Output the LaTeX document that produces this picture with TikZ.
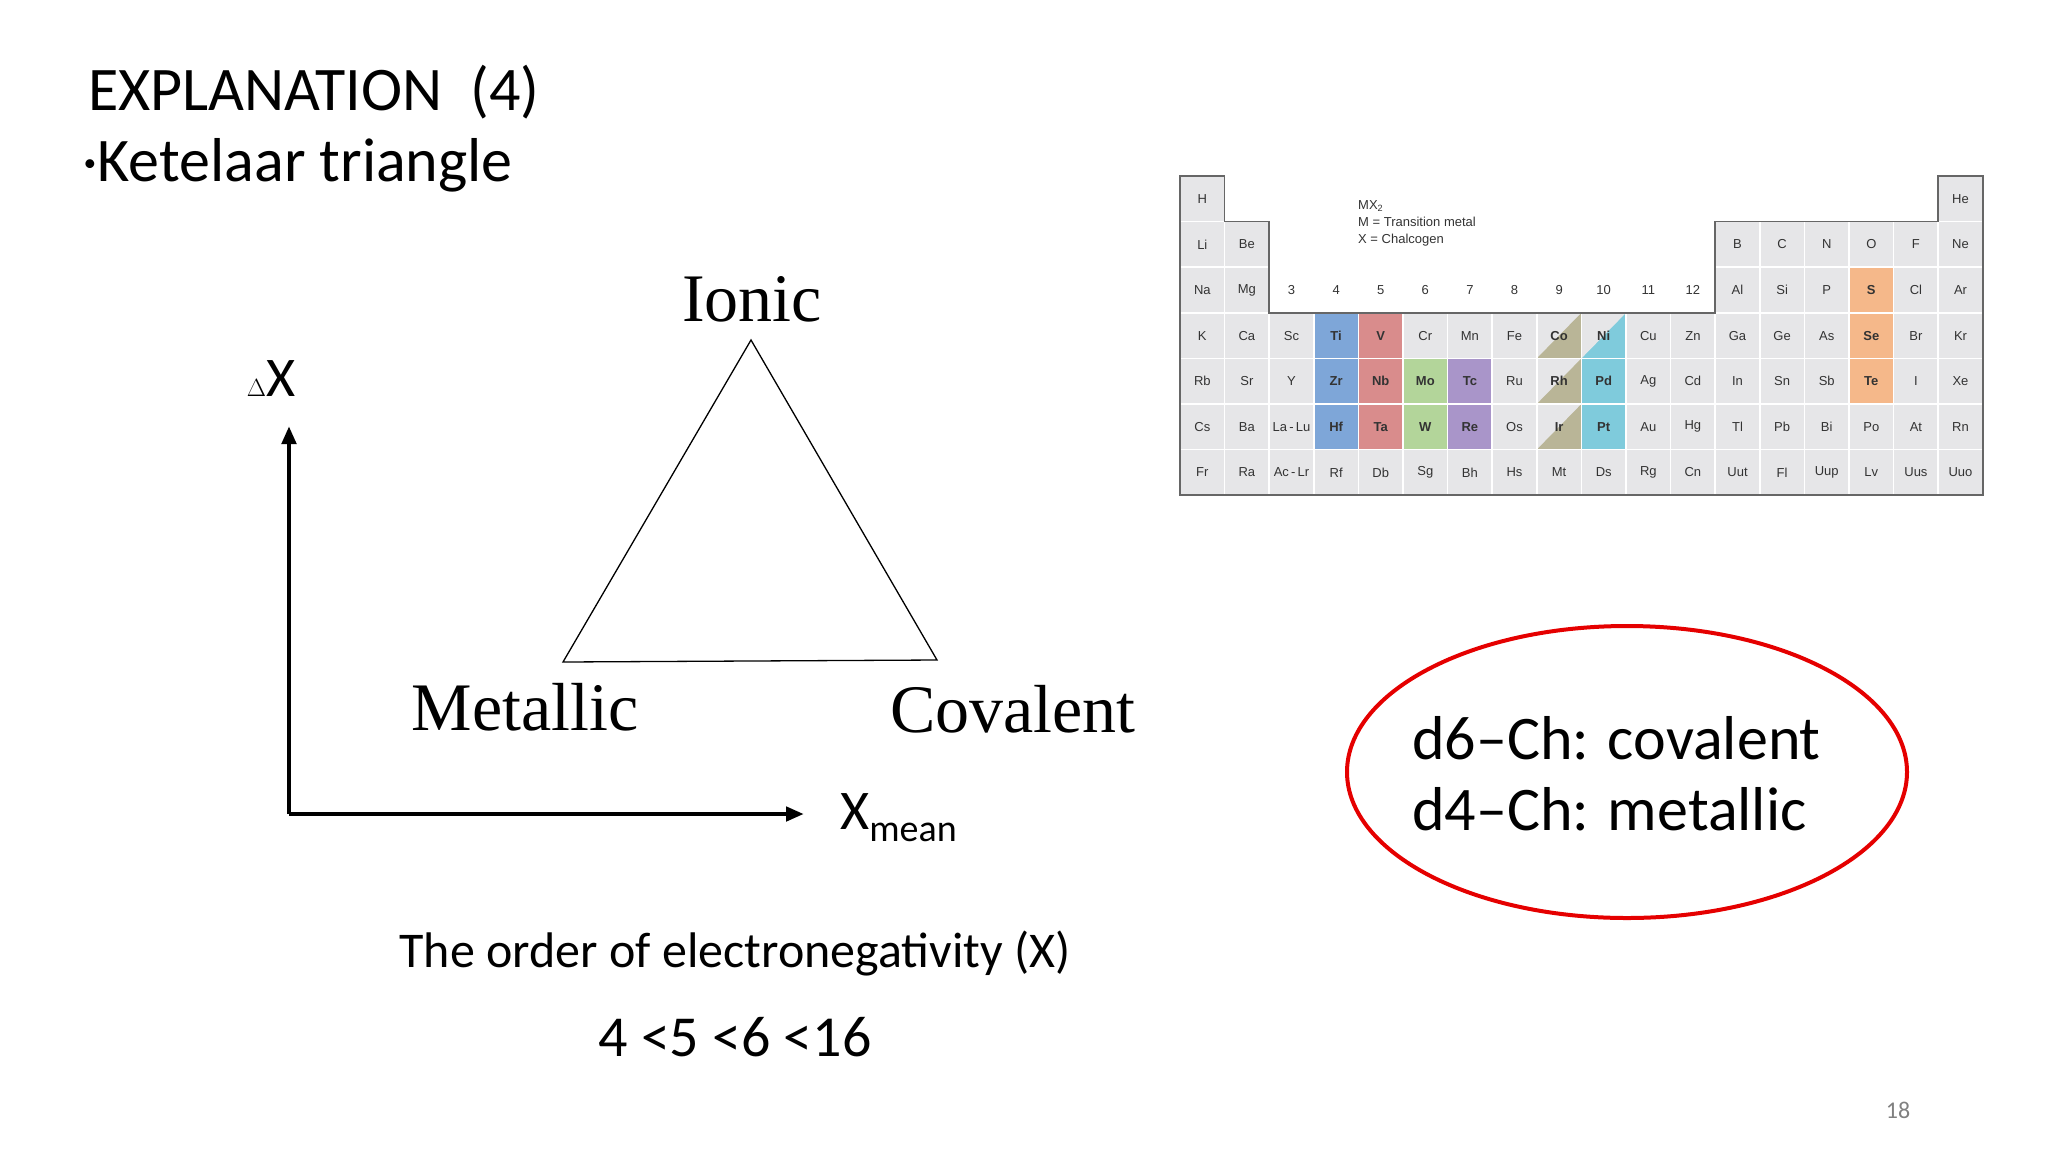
\documentclass[tikz,border=0pt]{standalone}
\usepackage{fontspec}
\setmainfont{Carlito}
\newfontfamily\tnr{Liberation Serif}
\newfontfamily\arl{Liberation Sans}
\usetikzlibrary{arrows.meta}
\definecolor{cg}{HTML}{E6E6E8}
\definecolor{cb}{HTML}{7EA6D8}
\definecolor{cr}{HTML}{D98C8C}
\definecolor{cgr}{HTML}{B3D59A}
\definecolor{cp}{HTML}{A995C9}
\definecolor{ct}{HTML}{B9B597}
\definecolor{cc}{HTML}{7FCBDC}
\definecolor{co}{HTML}{F5B88A}
\definecolor{tx}{HTML}{333333}
\tikzset{
 base/.style={rectangle,draw=white,line width=1.5pt,minimum width=44.6pt,minimum height=45.6pt,inner sep=0pt,text=tx,font=\arl\fontsize{13}{15}\selectfont},
 g/.style={base,fill=cg},
 b/.style={base,fill=cb,font=\arl\bfseries\fontsize{13}{15}\selectfont},
 r/.style={base,fill=cr,font=\arl\bfseries\fontsize{13}{15}\selectfont},
 n/.style={base,fill=cgr,font=\arl\bfseries\fontsize{13}{15}\selectfont},
 p/.style={base,fill=cp,font=\arl\bfseries\fontsize{13}{15}\selectfont},
 o/.style={base,fill=co,font=\arl\bfseries\fontsize{13}{15}\selectfont},
 c/.style={base,fill=cc,font=\arl\bfseries\fontsize{13}{15}\selectfont},
 t/.style={base,fill=cg,font=\arl\bfseries\fontsize{13}{15}\selectfont,
   path picture={\fill[ct] (path picture bounding box.south west) -- (path picture bounding box.south east) -- (path picture bounding box.north east) -- cycle;}},
 k/.style={base,fill=cc,font=\arl\bfseries\fontsize{13}{15}\selectfont,
   path picture={\fill[cg] (path picture bounding box.south west) -- (path picture bounding box.north west) -- (path picture bounding box.north east) -- cycle;}},
 w/.style={base,draw=none,fill=none},
 big/.style={font=\tnr\fontsize{68}{80}\selectfont,anchor=base},
 axis/.style={line width=4.5pt,-{Triangle[length=18pt,width=14pt]}},
}
\begin{document}
\begin{tikzpicture}[x=1pt,y=-1pt]
\useasboundingbox (0,0) rectangle (2048,1152);
% title
\node[anchor=base west,inner sep=0,font=\fontsize{62}{70}\selectfont] (t1) at (88,110) {EXPLANATION~~(4)};
\node[anchor=base west,inner sep=0,font=\fontsize{62}{70}\selectfont] (t2) at (82,181) {·Ketelaar triangle};
% triangle
\coordinate (ta) at (751,340);
\coordinate (tl) at (563,662);
\coordinate (tr) at (937,660);
\draw[line width=1.3pt] (ta) -- (tr) -- (tl) -- cycle;
\node[big] (ionic) at (752,321) {Ionic};
\node[big] (met) at (525,730) {Metallic};
\node[big] (cov) at (1013,732) {Covalent};
% axes
\coordinate (o) at (289,814);
\coordinate (yt) at (289,426);
\coordinate (xt) at (804,814);
\draw[axis] (o) -- (yt);
\draw[axis] (o) -- (xt);
\node[anchor=base,font=\fontsize{56}{60}\selectfont] (dx) at (271,396) {$\Delta$X};
\node[anchor=base west,inner sep=0,font=\fontsize{56}{60}\selectfont] (xm) at (840,829) {X\raisebox{-12pt}{\fontsize{38}{40}\selectfont mean}};
\node[anchor=base,font=\fontsize{50}{56}\selectfont] (ord) at (735,967) {The order of electronegativity (X)};
\node[anchor=base,font=\fontsize{58}{64}\selectfont] (seq) at (735,1056) {4 <5 <6 <16};
\node[anchor=base,text=gray,font=\fontsize{24}{28}\selectfont] (pg) at (1898,1118) {18};
% ellipse
\draw[red!90!black,line width=4pt] (1627,772) ellipse [x radius=280, y radius=146];
\node[anchor=base west,inner sep=0,font=\fontsize{62}{70}\selectfont] (d6) at (1412,759) {d6–Ch: covalent};
\node[anchor=base west,inner sep=0,font=\fontsize{62}{70}\selectfont] (d4) at (1412,830) {d4–Ch: metallic};
% periodic table
\begin{scope}[shift={(1180,176)}]
\def\cw{44.6}\def\rh{45.6}
\newcommand\rowcells[2]{\foreach \c/\s/\e in {#2} {\node[\s] (e-\c-#1) at ({(\c+0.5)*\cw},{(#1+0.5)*\rh}) {\e};}}
\rowcells{0}{0/g/H,17/g/He}
\rowcells{1}{0/g/Li,1/g/Be,12/g/B,13/g/C,14/g/N,15/g/O,16/g/F,17/g/Ne}
\rowcells{2}{0/g/Na,1/g/Mg,2/w/3,3/w/4,4/w/5,5/w/6,6/w/7,7/w/8,8/w/9,9/w/10,10/w/11,11/w/12,12/g/Al,13/g/Si,14/g/P,15/o/S,16/g/Cl,17/g/Ar}
\rowcells{3}{0/g/K,1/g/Ca,2/g/Sc,3/b/Ti,4/r/V,5/g/Cr,6/g/Mn,7/g/Fe,8/t/Co,9/k/Ni,10/g/Cu,11/g/Zn,12/g/Ga,13/g/Ge,14/g/As,15/o/Se,16/g/Br,17/g/Kr}
\rowcells{4}{0/g/Rb,1/g/Sr,2/g/Y,3/b/Zr,4/r/Nb,5/n/Mo,6/p/Tc,7/g/Ru,8/t/Rh,9/c/Pd,10/g/Ag,11/g/Cd,12/g/In,13/g/Sn,14/g/Sb,15/o/Te,16/g/I,17/g/Xe}
\rowcells{5}{0/g/Cs,1/g/Ba,2/g/La\,-\,Lu,3/b/Hf,4/r/Ta,5/n/W,6/p/Re,7/g/Os,8/t/Ir,9/c/Pt,10/g/Au,11/g/Hg,12/g/Tl,13/g/Pb,14/g/Bi,15/g/Po,16/g/At,17/g/Rn}
\rowcells{6}{0/g/Fr,1/g/Ra,2/g/Ac\,-\,Lr,3/g/Rf,4/g/Db,5/g/Sg,6/g/Bh,7/g/Hs,8/g/Mt,9/g/Ds,10/g/Rg,11/g/Cn,12/g/Uut,13/g/Fl,14/g/Uup,15/g/Lv,16/g/Uus,17/g/Uuo}
\draw[gray!80!black,line width=1.5pt] (0,7*\rh) -- (0,0) -- (\cw,0) -- (\cw,\rh) -- (2*\cw,\rh) -- (2*\cw,3*\rh) -- (12*\cw,3*\rh) -- (12*\cw,\rh) -- (17*\cw,\rh) -- (17*\cw,0) -- (18*\cw,0) -- (18*\cw,7*\rh) -- cycle;
\node[anchor=north west,align=left,inner sep=0,text=tx,font=\arl\fontsize{13}{17}\selectfont] (mx) at (178,24) {MX\textsubscript{2}\\M = Transition metal\\X = Chalcogen};
\end{scope}
\end{tikzpicture}
\end{document}
